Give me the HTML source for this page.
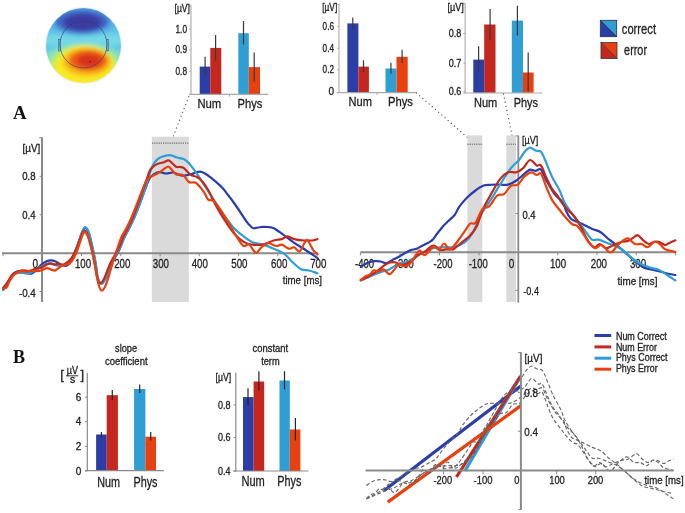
<!DOCTYPE html>
<html lang="en"><head><meta charset="utf-8"><title>Figure</title>
<style>html,body{margin:0;padding:0;background:#fff;}svg{display:block}</style></head><body>
<svg width="685" height="513" viewBox="0 0 685 513">
<defs>
<clipPath id="headclip"><circle cx="83.5" cy="45.5" r="37.5"/></clipPath>
<filter id="blur1" x="-20%" y="-20%" width="140%" height="140%"><feGaussianBlur stdDeviation="2.2"/></filter>
</defs>
<circle cx="83.5" cy="45.5" r="38.7" fill="#edf2f8"/>
<g clip-path="url(#headclip)"><g filter="url(#blur1)">
<rect x="40" y="0" width="90" height="95" fill="#5fc6ea"/>
<ellipse cx="84" cy="40" rx="50" ry="7" fill="#74d8e6"/>
<ellipse cx="84" cy="66" rx="46" ry="22" fill="#86e3b4"/>
<ellipse cx="84" cy="71" rx="35" ry="26.5" fill="#cdec4a"/>
<ellipse cx="85" cy="70.5" rx="30" ry="24.5" fill="#f8ea26"/>
<ellipse cx="87" cy="62" rx="24" ry="14" fill="#f7b418"/>
<ellipse cx="88" cy="60.5" rx="19" ry="10.5" fill="#ee5a12"/>
<ellipse cx="89" cy="60.5" rx="12" ry="6.5" fill="#d6301a"/>
<ellipse cx="82" cy="20" rx="37" ry="16" fill="#58aee6"/>
<ellipse cx="82" cy="21.5" rx="27" ry="12" fill="#4163c4"/>
<ellipse cx="82.5" cy="22.5" rx="19" ry="8.5" fill="#3a3aa2"/>
</g></g>
<ellipse cx="83.5" cy="44.5" rx="23.5" ry="23.5" fill="none" stroke="#353c6e" stroke-width="0.8" opacity="0.8"/>
<rect x="58.4" y="39.5" width="1.6" height="11.5" fill="none" stroke="#353c6e" stroke-width="0.6" opacity="0.8"/>
<rect x="107" y="39.5" width="1.6" height="11.5" fill="none" stroke="#353c6e" stroke-width="0.6" opacity="0.8"/>
<circle cx="90" cy="61.5" r="0.8" fill="#7a1a1a"/>
<rect x="199.7" y="66.6" width="10.6" height="27.6" fill="#2b3da6"/>
<rect x="210.3" y="47.9" width="11.0" height="46.3" fill="#c3271e"/>
<rect x="238.3" y="33.2" width="10.5" height="61.0" fill="#2e9ed4"/>
<rect x="248.8" y="67.1" width="11.2" height="27.1" fill="#e7410f"/>
<line x1="205.1" y1="56.8" x2="205.1" y2="76.0" stroke="#38383f" stroke-width="1.20"/>
<line x1="215.6" y1="35.0" x2="215.6" y2="60.8" stroke="#38383f" stroke-width="1.20"/>
<line x1="243.5" y1="21.0" x2="243.5" y2="44.4" stroke="#38383f" stroke-width="1.20"/>
<line x1="254.2" y1="52.6" x2="254.2" y2="81.4" stroke="#38383f" stroke-width="1.20"/>
<line x1="191.0" y1="5.3" x2="191.0" y2="94.8" stroke="#a9a9a9" stroke-width="1.10"/>
<line x1="189.0" y1="94.4" x2="268.0" y2="94.4" stroke="#a9a9a9" stroke-width="1.10"/>
<line x1="189.2" y1="5.7" x2="191.0" y2="5.7" stroke="#a9a9a9" stroke-width="0.90"/>
<line x1="229.4" y1="94.2" x2="229.4" y2="96.7" stroke="#a9a9a9" stroke-width="1.00"/>
<text x="187.0" y="32.8" font-size="10.0" font-family='"Liberation Sans", sans-serif' text-anchor="end" textLength="11.5" lengthAdjust="spacingAndGlyphs" fill="#222" stroke="#222" stroke-width="0.30">1.0</text>
<line x1="189.2" y1="29.2" x2="191.0" y2="29.2" stroke="#a9a9a9" stroke-width="0.90"/>
<text x="187.0" y="53.4" font-size="10.0" font-family='"Liberation Sans", sans-serif' text-anchor="end" textLength="11.5" lengthAdjust="spacingAndGlyphs" fill="#222" stroke="#222" stroke-width="0.30">0.9</text>
<line x1="189.2" y1="49.8" x2="191.0" y2="49.8" stroke="#a9a9a9" stroke-width="0.90"/>
<text x="187.0" y="75.1" font-size="10.0" font-family='"Liberation Sans", sans-serif' text-anchor="end" textLength="11.5" lengthAdjust="spacingAndGlyphs" fill="#222" stroke="#222" stroke-width="0.30">0.8</text>
<line x1="189.2" y1="71.5" x2="191.0" y2="71.5" stroke="#a9a9a9" stroke-width="0.90"/>
<text x="174.5" y="12.4" font-size="10.0" font-family='"Liberation Sans", sans-serif' textLength="15.5" lengthAdjust="spacingAndGlyphs" fill="#222" stroke="#222" stroke-width="0.30">[µV]</text>
<text x="197.4" y="107.8" font-size="13.5" font-family='"Liberation Sans", sans-serif' textLength="23.9" lengthAdjust="spacingAndGlyphs" fill="#222" stroke="#222" stroke-width="0.30">Num</text>
<text x="237.6" y="107.8" font-size="13.5" font-family='"Liberation Sans", sans-serif' textLength="24.8" lengthAdjust="spacingAndGlyphs" fill="#222" stroke="#222" stroke-width="0.30">Phys</text>
<rect x="347.4" y="23.4" width="11.0" height="69.0" fill="#2b3da6"/>
<rect x="358.4" y="66.6" width="10.5" height="25.8" fill="#c3271e"/>
<rect x="385.5" y="68.5" width="11.0" height="23.9" fill="#2e9ed4"/>
<rect x="396.5" y="56.8" width="11.2" height="35.6" fill="#e7410f"/>
<line x1="352.8" y1="17.5" x2="352.8" y2="29.2" stroke="#38383f" stroke-width="1.20"/>
<line x1="363.5" y1="60.3" x2="363.5" y2="72.0" stroke="#38383f" stroke-width="1.20"/>
<line x1="390.9" y1="62.7" x2="390.9" y2="73.6" stroke="#38383f" stroke-width="1.20"/>
<line x1="402.1" y1="49.8" x2="402.1" y2="62.7" stroke="#38383f" stroke-width="1.20"/>
<line x1="339.0" y1="4.1" x2="339.0" y2="93.0" stroke="#a9a9a9" stroke-width="1.10"/>
<line x1="337.0" y1="92.6" x2="416.4" y2="92.6" stroke="#a9a9a9" stroke-width="1.10"/>
<line x1="337.2" y1="4.5" x2="339.0" y2="4.5" stroke="#a9a9a9" stroke-width="0.90"/>
<line x1="377.0" y1="92.4" x2="377.0" y2="94.9" stroke="#a9a9a9" stroke-width="1.00"/>
<text x="334.0" y="30.0" font-size="10.0" font-family='"Liberation Sans", sans-serif' text-anchor="end" textLength="11.4" lengthAdjust="spacingAndGlyphs" fill="#222" stroke="#222" stroke-width="0.30">0.6</text>
<line x1="337.2" y1="26.4" x2="339.0" y2="26.4" stroke="#a9a9a9" stroke-width="0.90"/>
<text x="334.0" y="51.8" font-size="10.0" font-family='"Liberation Sans", sans-serif' text-anchor="end" textLength="11.4" lengthAdjust="spacingAndGlyphs" fill="#222" stroke="#222" stroke-width="0.30">0.4</text>
<line x1="337.2" y1="48.2" x2="339.0" y2="48.2" stroke="#a9a9a9" stroke-width="0.90"/>
<text x="334.0" y="73.3" font-size="10.0" font-family='"Liberation Sans", sans-serif' text-anchor="end" textLength="11.4" lengthAdjust="spacingAndGlyphs" fill="#222" stroke="#222" stroke-width="0.30">0.2</text>
<line x1="337.2" y1="69.7" x2="339.0" y2="69.7" stroke="#a9a9a9" stroke-width="0.90"/>
<text x="334.0" y="94.8" font-size="10.0" font-family='"Liberation Sans", sans-serif' text-anchor="end" fill="#222" stroke="#222" stroke-width="0.30">0</text>
<text x="322.3" y="11.2" font-size="10.0" font-family='"Liberation Sans", sans-serif' textLength="14.9" lengthAdjust="spacingAndGlyphs" fill="#222" stroke="#222" stroke-width="0.30">[µV]</text>
<text x="348.6" y="106.2" font-size="13.5" font-family='"Liberation Sans", sans-serif' textLength="23.4" lengthAdjust="spacingAndGlyphs" fill="#222" stroke="#222" stroke-width="0.30">Num</text>
<text x="387.9" y="106.2" font-size="13.5" font-family='"Liberation Sans", sans-serif' textLength="25.0" lengthAdjust="spacingAndGlyphs" fill="#222" stroke="#222" stroke-width="0.30">Phys</text>
<rect x="473.3" y="59.6" width="10.9" height="33.2" fill="#2b3da6"/>
<rect x="484.2" y="24.5" width="11.3" height="68.3" fill="#c3271e"/>
<rect x="511.8" y="20.6" width="11.2" height="72.2" fill="#2e9ed4"/>
<rect x="523.0" y="72.5" width="10.6" height="20.3" fill="#e7410f"/>
<line x1="478.6" y1="46.3" x2="478.6" y2="71.3" stroke="#38383f" stroke-width="1.20"/>
<line x1="490.1" y1="8.9" x2="490.1" y2="39.7" stroke="#38383f" stroke-width="1.20"/>
<line x1="517.4" y1="5.8" x2="517.4" y2="35.5" stroke="#38383f" stroke-width="1.20"/>
<line x1="528.2" y1="52.6" x2="528.2" y2="91.2" stroke="#38383f" stroke-width="1.20"/>
<line x1="465.1" y1="3.0" x2="465.1" y2="93.4" stroke="#a9a9a9" stroke-width="1.10"/>
<line x1="463.1" y1="93.0" x2="542.2" y2="93.0" stroke="#a9a9a9" stroke-width="1.10"/>
<line x1="463.3" y1="3.4" x2="465.1" y2="3.4" stroke="#a9a9a9" stroke-width="0.90"/>
<text x="461.4" y="37.1" font-size="10.0" font-family='"Liberation Sans", sans-serif' text-anchor="end" textLength="12.6" lengthAdjust="spacingAndGlyphs" fill="#222" stroke="#222" stroke-width="0.30">0.8</text>
<line x1="463.3" y1="33.5" x2="465.1" y2="33.5" stroke="#a9a9a9" stroke-width="0.90"/>
<text x="461.4" y="66.9" font-size="10.0" font-family='"Liberation Sans", sans-serif' text-anchor="end" textLength="12.6" lengthAdjust="spacingAndGlyphs" fill="#222" stroke="#222" stroke-width="0.30">0.7</text>
<line x1="463.3" y1="63.3" x2="465.1" y2="63.3" stroke="#a9a9a9" stroke-width="0.90"/>
<text x="461.4" y="95.0" font-size="10.0" font-family='"Liberation Sans", sans-serif' text-anchor="end" textLength="12.6" lengthAdjust="spacingAndGlyphs" fill="#222" stroke="#222" stroke-width="0.30">0.6</text>
<line x1="463.3" y1="91.4" x2="465.1" y2="91.4" stroke="#a9a9a9" stroke-width="0.90"/>
<text x="447.5" y="11.0" font-size="10.0" font-family='"Liberation Sans", sans-serif' textLength="16.4" lengthAdjust="spacingAndGlyphs" fill="#222" stroke="#222" stroke-width="0.30">[µV]</text>
<text x="474.0" y="106.8" font-size="13.5" font-family='"Liberation Sans", sans-serif' textLength="23.3" lengthAdjust="spacingAndGlyphs" fill="#222" stroke="#222" stroke-width="0.30">Num</text>
<text x="513.7" y="106.8" font-size="13.5" font-family='"Liberation Sans", sans-serif' textLength="24.3" lengthAdjust="spacingAndGlyphs" fill="#222" stroke="#222" stroke-width="0.30">Phys</text>
<polygon points="600.3,20.3 616.7,36.7 600.3,36.7" fill="#2b3da6"/>
<polygon points="600.3,20.3 616.7,20.3 616.7,36.7" fill="#2e9ed4"/>
<rect x="600.3" y="20.3" width="16.4" height="16.4" fill="none" stroke="#333" stroke-width="0.8"/>
<line x1="600.3" y1="20.3" x2="616.7" y2="36.7" stroke="#222" stroke-width="0.80"/>
<polygon points="601,42.4 617,58.5 601,58.5" fill="#c3271e"/>
<polygon points="601,42.4 617,42.4 617,58.5" fill="#e7410f"/>
<rect x="601" y="42.4" width="16" height="16.1" fill="none" stroke="#333" stroke-width="0.8"/>
<line x1="601.0" y1="42.4" x2="617.0" y2="58.5" stroke="#222" stroke-width="0.80"/>
<text x="621.8" y="33.5" font-size="15.0" font-family='"Liberation Sans", sans-serif' textLength="34.2" lengthAdjust="spacingAndGlyphs" fill="#222" stroke="#222" stroke-width="0.30">correct</text>
<text x="624.1" y="54.9" font-size="15.0" font-family='"Liberation Sans", sans-serif' textLength="22.9" lengthAdjust="spacingAndGlyphs" fill="#222" stroke="#222" stroke-width="0.30">error</text>
<text x="13.0" y="118.5" font-size="18.8" font-family='"Liberation Serif", serif' font-weight="bold" fill="#111" stroke="#111" stroke-width="0.00">A</text>
<text x="13.0" y="363.4" font-size="18.0" font-family='"Liberation Serif", serif' font-weight="bold" fill="#111" stroke="#111" stroke-width="0.00">B</text>
<line x1="188.9" y1="96.2" x2="171.9" y2="139.8" stroke="#454a88" stroke-width="1.10" stroke-dasharray="1.1,3.1"/>
<line x1="416.1" y1="92.6" x2="472.2" y2="141.6" stroke="#444" stroke-width="1.10" stroke-dasharray="1.1,3.1"/>
<line x1="503.4" y1="93.5" x2="513.3" y2="141.5" stroke="#444" stroke-width="1.10" stroke-dasharray="1.1,3.1"/>
<rect x="151.8" y="136.7" width="37.0" height="165.3" fill="#dadada"/>
<line x1="152.0" y1="143.1" x2="188.7" y2="143.1" stroke="#333" stroke-width="0.80" stroke-dasharray="1.2,1"/>
<line x1="42.0" y1="137.2" x2="42.0" y2="302.0" stroke="#8a8a8a" stroke-width="2.00"/>
<line x1="2.0" y1="253.3" x2="318.3" y2="253.3" stroke="#8a8a8a" stroke-width="2.00"/>
<line x1="39.2" y1="137.6" x2="42.0" y2="137.6" stroke="#8a8a8a" stroke-width="1.00"/>
<line x1="39.5" y1="176.3" x2="42.0" y2="176.3" stroke="#8a8a8a" stroke-width="1.00"/>
<line x1="39.5" y1="214.8" x2="42.0" y2="214.8" stroke="#8a8a8a" stroke-width="1.00"/>
<line x1="39.5" y1="291.5" x2="42.0" y2="291.5" stroke="#8a8a8a" stroke-width="1.00"/>
<line x1="3.0" y1="253.3" x2="3.0" y2="256.2" stroke="#8a8a8a" stroke-width="1.00"/>
<line x1="81.5" y1="253.3" x2="81.5" y2="256.2" stroke="#8a8a8a" stroke-width="1.00"/>
<line x1="120.8" y1="253.3" x2="120.8" y2="256.2" stroke="#8a8a8a" stroke-width="1.00"/>
<line x1="160.1" y1="253.3" x2="160.1" y2="256.2" stroke="#8a8a8a" stroke-width="1.00"/>
<line x1="199.3" y1="253.3" x2="199.3" y2="256.2" stroke="#8a8a8a" stroke-width="1.00"/>
<line x1="238.6" y1="253.3" x2="238.6" y2="256.2" stroke="#8a8a8a" stroke-width="1.00"/>
<line x1="277.8" y1="253.3" x2="277.8" y2="256.2" stroke="#8a8a8a" stroke-width="1.00"/>
<line x1="317.1" y1="253.3" x2="317.1" y2="256.2" stroke="#8a8a8a" stroke-width="1.00"/>
<text x="22.5" y="152.3" font-size="10.5" font-family='"Liberation Sans", sans-serif' textLength="17.8" lengthAdjust="spacingAndGlyphs" fill="#222" stroke="#222" stroke-width="0.30">[µV]</text>
<text x="35.6" y="180.2" font-size="10.5" font-family='"Liberation Sans", sans-serif' text-anchor="end" textLength="13.3" lengthAdjust="spacingAndGlyphs" fill="#222" stroke="#222" stroke-width="0.30">0.8</text>
<text x="35.6" y="218.6" font-size="10.5" font-family='"Liberation Sans", sans-serif' text-anchor="end" textLength="13.3" lengthAdjust="spacingAndGlyphs" fill="#222" stroke="#222" stroke-width="0.30">0.4</text>
<text x="35.8" y="296.6" font-size="11.0" font-family='"Liberation Sans", sans-serif' text-anchor="end" textLength="16.9" lengthAdjust="spacingAndGlyphs" fill="#222" stroke="#222" stroke-width="0.30">-0.4</text>
<text x="35.3" y="267.7" font-size="12.0" font-family='"Liberation Sans", sans-serif' text-anchor="middle" textLength="5.6" lengthAdjust="spacingAndGlyphs" fill="#222" stroke="#222" stroke-width="0.30">0</text>
<text x="83.0" y="267.7" font-size="12.0" font-family='"Liberation Sans", sans-serif' text-anchor="middle" textLength="16.2" lengthAdjust="spacingAndGlyphs" fill="#222" stroke="#222" stroke-width="0.30">100</text>
<text x="122.3" y="267.7" font-size="12.0" font-family='"Liberation Sans", sans-serif' text-anchor="middle" textLength="16.2" lengthAdjust="spacingAndGlyphs" fill="#222" stroke="#222" stroke-width="0.30">200</text>
<text x="160.9" y="267.7" font-size="12.0" font-family='"Liberation Sans", sans-serif' text-anchor="middle" textLength="16.2" lengthAdjust="spacingAndGlyphs" fill="#222" stroke="#222" stroke-width="0.30">300</text>
<text x="199.8" y="267.7" font-size="12.0" font-family='"Liberation Sans", sans-serif' text-anchor="middle" textLength="16.2" lengthAdjust="spacingAndGlyphs" fill="#222" stroke="#222" stroke-width="0.30">400</text>
<text x="239.4" y="267.7" font-size="12.0" font-family='"Liberation Sans", sans-serif' text-anchor="middle" textLength="16.2" lengthAdjust="spacingAndGlyphs" fill="#222" stroke="#222" stroke-width="0.30">500</text>
<text x="279.2" y="267.7" font-size="12.0" font-family='"Liberation Sans", sans-serif' text-anchor="middle" textLength="16.2" lengthAdjust="spacingAndGlyphs" fill="#222" stroke="#222" stroke-width="0.30">600</text>
<text x="318.3" y="267.7" font-size="12.0" font-family='"Liberation Sans", sans-serif' text-anchor="middle" textLength="16.2" lengthAdjust="spacingAndGlyphs" fill="#222" stroke="#222" stroke-width="0.30">700</text>
<text x="282.7" y="283.8" font-size="11.2" font-family='"Liberation Sans", sans-serif' textLength="39.3" lengthAdjust="spacingAndGlyphs" fill="#222" stroke="#222" stroke-width="0.30">time [ms]</text>
<path d="M3.2,289.3C4.1,287.9 7.1,283.2 8.8,280.6C10.5,278.1 11.9,275.5 13.2,274.0C14.5,272.5 15.4,271.8 16.8,271.5C18.2,271.2 20.1,271.8 21.9,272.1C23.7,272.4 26.1,273.3 27.8,273.5C29.5,273.7 30.8,273.8 32.2,273.2C33.7,272.6 35.0,271.3 36.5,270.0C38.0,268.7 39.3,266.6 40.9,265.2C42.5,263.8 44.4,262.3 46.1,261.5C47.8,260.7 49.6,260.4 51.2,260.4C52.8,260.4 53.9,260.8 55.6,261.5C57.3,262.2 59.7,264.1 61.4,264.8C63.1,265.5 64.5,266.1 65.8,265.9C67.1,265.7 68.2,265.3 69.4,263.7C70.6,262.1 71.8,259.4 73.1,256.4C74.4,253.4 76.0,249.4 77.5,245.5C79.0,241.6 80.6,235.9 81.9,233.0C83.2,230.1 84.0,228.0 85.1,227.9C86.2,227.8 87.3,229.5 88.5,232.5C89.7,235.5 90.8,240.9 92.0,246.0C93.2,251.1 94.6,257.8 95.5,263.0C96.4,268.2 96.7,273.6 97.5,277.0C98.3,280.4 99.3,282.9 100.6,283.2C101.8,283.5 103.3,282.0 105.0,279.0C106.7,276.0 109.0,269.2 111.0,265.0C113.0,260.8 115.4,257.0 117.0,254.0C118.6,251.0 119.3,249.8 120.5,247.0C121.7,244.2 122.9,240.6 124.3,237.5C125.7,234.4 127.4,231.8 129.0,228.5C130.6,225.2 132.3,221.9 134.0,218.0C135.7,214.1 137.7,209.1 139.3,205.0C140.9,200.9 142.1,197.2 143.5,193.5C144.9,189.8 146.3,185.8 147.5,183.0C148.7,180.2 149.1,178.6 150.7,176.8C152.3,175.1 155.3,173.2 157.0,172.5C158.7,171.8 159.5,172.1 161.0,172.3C162.5,172.5 164.4,173.4 165.9,173.5C167.4,173.6 168.7,173.2 170.0,173.0C171.3,172.8 171.7,172.1 173.5,172.5C175.3,172.9 179.0,175.0 181.1,175.5C183.2,176.0 184.3,175.5 186.0,175.3C187.7,175.1 189.5,174.8 191.2,174.3C192.9,173.8 194.5,172.9 196.0,172.5C197.5,172.1 198.6,171.5 200.1,171.7C201.6,171.9 203.2,172.5 205.0,173.5C206.8,174.5 208.1,175.4 210.9,177.7C213.7,180.0 219.0,184.4 221.8,187.3C224.7,190.2 225.7,192.1 228.0,195.0C230.3,197.9 232.4,200.6 235.5,205.0C238.6,209.4 244.0,218.0 246.4,221.4C248.8,224.8 248.9,224.4 250.0,225.5C251.1,226.6 251.9,227.9 253.2,228.2C254.5,228.5 256.4,227.7 258.0,227.5C259.6,227.3 261.1,227.0 262.8,226.9C264.5,226.8 266.2,226.8 268.0,227.0C269.8,227.2 271.4,227.1 273.7,228.2C276.0,229.3 278.7,231.4 281.9,233.7C285.1,236.0 289.2,239.4 292.8,241.9C296.4,244.4 299.5,246.0 303.7,248.7C307.9,251.4 315.5,256.7 317.9,258.3" fill="none" stroke="#2b3da6" stroke-width="2.2" stroke-linecap="round" stroke-linejoin="round"/>
<path d="M3.2,290.0C4.1,288.7 6.9,284.7 8.8,282.0C10.7,279.3 12.4,275.5 14.6,274.0C16.8,272.5 19.5,273.1 21.9,273.0C24.3,272.9 26.8,273.8 29.2,273.2C31.6,272.6 34.3,270.8 36.5,269.6C38.7,268.4 40.4,266.9 42.4,265.9C44.4,264.8 46.2,263.5 48.2,263.3C50.2,263.1 52.4,264.4 54.1,264.8C55.8,265.2 56.8,265.9 58.5,265.9C60.2,265.8 62.3,265.4 64.3,264.5C66.2,263.6 68.5,262.8 70.2,260.8C71.9,258.9 73.1,256.1 74.6,252.8C76.0,249.5 77.6,244.8 78.9,241.1C80.2,237.4 81.6,233.1 82.6,230.8C83.6,228.5 84.1,227.1 85.1,227.2C86.1,227.3 87.3,228.6 88.5,231.6C89.7,234.6 90.8,239.9 92.0,245.0C93.2,250.1 94.5,256.5 95.5,262.0C96.5,267.5 97.0,274.3 98.0,278.0C99.0,281.7 100.2,283.8 101.5,284.0C102.8,284.2 103.9,282.2 105.5,279.0C107.1,275.8 109.1,269.3 111.0,265.0C112.9,260.7 115.4,256.1 117.0,253.0C118.6,249.9 119.2,249.2 120.5,246.5C121.8,243.8 123.0,240.1 124.5,237.0C126.0,233.9 127.7,231.2 129.3,228.0C130.9,224.8 132.6,221.4 134.3,217.5C136.0,213.6 137.9,208.6 139.5,204.5C141.1,200.4 142.4,196.9 143.8,193.0C145.2,189.1 146.7,184.8 147.8,181.0C149.0,177.2 149.5,173.7 150.7,170.5C151.9,167.3 153.5,164.1 155.0,162.0C156.5,159.9 157.9,158.8 159.6,157.8C161.3,156.8 163.1,156.2 165.0,155.8C166.9,155.4 169.0,155.0 171.0,155.3C173.0,155.6 174.9,156.9 177.0,157.5C179.1,158.1 181.7,158.2 183.6,159.1C185.5,160.0 186.8,160.9 188.7,162.9C190.6,164.9 192.9,168.1 195.0,171.0C197.1,173.9 198.8,176.5 201.4,180.6C204.1,184.7 207.5,190.3 210.9,195.5C214.3,200.7 218.2,206.7 221.8,211.9C225.5,217.1 229.2,222.8 232.8,226.9C236.5,231.0 240.5,233.9 243.7,236.4C246.9,238.9 248.7,240.5 251.9,241.9C255.1,243.3 259.2,243.5 262.8,244.6C266.4,245.7 270.1,247.1 273.7,248.7C277.3,250.3 281.4,251.9 284.6,254.2C287.8,256.5 290.1,259.9 292.8,262.4C295.5,264.9 298.3,267.8 301.0,269.2C303.7,270.6 306.5,269.8 309.2,270.5C311.9,271.2 316.0,272.8 317.4,273.3" fill="none" stroke="#2e9ed4" stroke-width="2.2" stroke-linecap="round" stroke-linejoin="round"/>
<path d="M3.2,288.0C3.9,287.1 5.9,284.8 7.3,282.7C8.7,280.6 10.2,277.1 11.7,275.4C13.2,273.7 14.4,273.4 16.1,272.5C17.8,271.6 19.7,270.5 21.9,270.3C24.1,270.1 27.0,271.3 29.2,271.1C31.4,270.9 33.0,269.5 35.1,268.9C37.2,268.3 39.8,268.1 41.7,267.4C43.7,266.7 45.2,265.2 46.8,264.5C48.4,263.8 49.9,263.3 51.2,263.3C52.5,263.3 53.6,264.4 54.8,264.5C56.0,264.6 57.1,263.6 58.5,263.7C59.9,263.8 61.4,265.0 62.9,264.8C64.4,264.6 65.8,263.5 67.3,262.3C68.8,261.1 70.1,260.0 71.6,257.9C73.0,255.8 74.5,253.2 76.0,249.9C77.5,246.6 79.1,241.4 80.4,238.2C81.8,235.0 82.9,231.3 84.1,230.8C85.3,230.3 86.5,232.1 87.7,235.0C88.9,237.9 90.2,243.0 91.4,248.0C92.6,253.0 94.1,260.2 95.0,265.0C95.9,269.8 96.2,274.0 97.0,277.0C97.8,280.0 98.6,282.9 99.8,283.2C101.0,283.5 102.3,282.2 104.0,279.0C105.7,275.8 108.0,268.3 110.0,264.0C112.0,259.7 114.4,256.0 116.0,253.0C117.6,250.0 118.3,248.6 119.5,246.0C120.7,243.4 121.7,240.4 123.0,237.5C124.3,234.6 125.9,231.8 127.5,228.5C129.1,225.2 130.8,222.0 132.5,218.0C134.2,214.0 136.2,208.7 137.8,204.5C139.4,200.3 140.6,197.1 142.0,193.0C143.4,188.9 145.1,184.0 146.5,180.0C147.9,176.0 148.9,171.8 150.7,169.2C152.4,166.5 154.9,165.2 157.0,164.1C159.1,163.0 161.1,163.1 163.0,162.5C164.9,161.9 166.9,160.2 168.4,160.3C169.9,160.4 170.7,161.9 172.0,163.0C173.3,164.1 174.7,166.0 176.0,166.7C177.3,167.4 178.7,166.8 180.0,167.0C181.3,167.2 182.2,166.9 183.6,167.9C185.0,168.9 187.3,171.7 188.7,173.0C190.1,174.3 190.7,174.9 192.0,175.5C193.3,176.1 194.7,176.0 196.3,176.8C197.9,177.7 199.4,178.4 201.4,180.6C203.4,182.8 205.7,185.7 208.2,190.0C210.7,194.3 213.2,200.7 216.4,206.4C219.6,212.1 224.1,219.3 227.3,224.1C230.5,228.9 232.8,232.1 235.5,235.1C238.2,238.1 241.0,240.3 243.7,241.9C246.4,243.5 248.7,244.2 251.9,244.6C255.1,245.0 259.2,245.3 262.8,244.6C266.4,243.9 270.5,241.4 273.7,240.5C276.9,239.6 279.6,239.8 281.9,239.1C284.2,238.4 285.2,236.4 287.3,236.4C289.4,236.4 291.5,238.4 294.2,239.1C296.9,239.8 300.8,240.3 303.7,240.5C306.6,240.7 309.6,240.7 311.9,240.5C314.2,240.3 316.5,239.3 317.4,239.1" fill="none" stroke="#c3271e" stroke-width="2.2" stroke-linecap="round" stroke-linejoin="round"/>
<path d="M3.2,288.6C3.8,288.4 5.5,288.8 6.6,287.6C7.6,286.4 8.4,283.3 9.5,281.3C10.6,279.3 11.9,276.9 13.2,275.4C14.5,273.9 16.1,273.2 17.5,272.5C18.9,271.8 20.4,271.2 21.9,271.1C23.4,271.0 24.7,271.9 26.3,271.8C27.9,271.7 29.7,270.4 31.4,270.3C33.1,270.2 34.8,271.1 36.5,271.1C38.2,271.1 40.0,270.8 41.7,270.3C43.4,269.8 45.2,268.2 46.8,268.1C48.4,268.0 49.9,269.2 51.2,269.6C52.5,270.0 53.6,270.9 54.8,270.6C56.0,270.4 57.1,269.0 58.5,268.1C59.9,267.2 61.4,265.8 62.9,265.2C64.4,264.6 65.8,265.1 67.3,264.5C68.8,263.9 70.1,263.3 71.6,261.5C73.0,259.7 74.5,256.9 76.0,253.5C77.5,250.1 79.1,244.7 80.4,241.1C81.8,237.5 82.9,233.0 84.1,232.2C85.3,231.3 86.5,233.3 87.7,236.0C88.9,238.7 90.2,243.4 91.4,248.4C92.6,253.4 93.9,260.1 95.0,265.9C96.1,271.7 97.1,279.1 98.2,283.2C99.3,287.3 100.4,290.7 101.8,290.7C103.2,290.7 104.5,288.6 106.5,283.2C108.5,277.8 112.2,264.2 114.0,258.3C115.8,252.4 116.2,251.6 117.5,248.0C118.8,244.4 120.3,239.8 121.5,237.0C122.7,234.2 123.6,233.2 124.5,231.5C125.4,229.8 125.8,229.3 127.0,227.0C128.2,224.7 129.9,221.2 131.5,217.5C133.1,213.8 135.2,208.6 136.8,204.5C138.4,200.4 139.7,196.8 141.2,193.0C142.7,189.2 144.4,184.2 146.0,181.5C147.6,178.8 148.6,178.2 150.7,176.8C152.8,175.4 156.1,174.3 158.3,173.0C160.5,171.7 162.3,170.1 164.0,169.0C165.7,167.9 167.1,166.5 168.4,166.7C169.7,166.9 170.7,168.7 172.0,170.0C173.3,171.3 174.7,173.6 176.0,174.3C177.3,175.1 178.7,174.3 180.0,174.5C181.3,174.7 182.2,174.3 183.6,175.5C185.0,176.7 187.3,180.7 188.7,181.9C190.1,183.1 190.7,182.3 192.0,182.5C193.3,182.7 194.3,181.5 196.3,183.1C198.3,184.7 201.9,189.2 203.9,192.0C205.9,194.8 206.6,198.1 208.2,199.6C209.8,201.1 211.3,198.9 213.6,201.0C215.9,203.1 219.1,207.8 221.8,211.9C224.5,216.0 227.3,221.0 230.0,225.5C232.7,230.0 235.9,235.7 238.2,239.1C240.5,242.5 241.9,245.1 243.7,246.0C245.5,246.9 247.0,243.5 249.1,244.6C251.2,245.7 253.9,252.4 256.0,252.8C258.1,253.2 259.4,248.9 261.4,247.3C263.4,245.7 265.7,243.4 268.2,243.2C270.7,243.0 274.1,245.8 276.4,246.0C278.7,246.2 279.8,244.2 281.9,244.6C283.9,245.0 286.6,248.2 288.7,248.7C290.8,249.1 292.4,246.9 294.2,247.3C296.0,247.8 297.8,252.3 299.6,251.4C301.4,250.5 303.7,243.7 305.1,241.9C306.5,240.1 306.4,239.1 307.8,240.5C309.2,241.9 311.7,247.8 313.3,250.1C314.9,252.4 316.7,253.5 317.4,254.2" fill="none" stroke="#e7410f" stroke-width="2.2" stroke-linecap="round" stroke-linejoin="round"/>
<rect x="467.4" y="135.4" width="14.9" height="166.6" fill="#dadada"/>
<rect x="506.3" y="135.4" width="9.7" height="166.6" fill="#dadada"/>
<line x1="467.4" y1="144.2" x2="482.4" y2="144.2" stroke="#333" stroke-width="0.80" stroke-dasharray="1.2,1"/>
<line x1="506.3" y1="144.2" x2="515.9" y2="144.2" stroke="#333" stroke-width="0.80" stroke-dasharray="1.2,1"/>
<line x1="518.3" y1="135.5" x2="518.3" y2="302.6" stroke="#8a8a8a" stroke-width="1.80"/>
<line x1="515.6" y1="135.9" x2="518.3" y2="135.9" stroke="#8a8a8a" stroke-width="1.00"/>
<line x1="360.4" y1="252.3" x2="675.8" y2="252.3" stroke="#8a8a8a" stroke-width="2.00"/>
<line x1="360.4" y1="252.3" x2="360.4" y2="255.3" stroke="#8a8a8a" stroke-width="1.00"/>
<line x1="400.0" y1="252.3" x2="400.0" y2="255.3" stroke="#8a8a8a" stroke-width="1.00"/>
<line x1="439.5" y1="252.3" x2="439.5" y2="255.3" stroke="#8a8a8a" stroke-width="1.00"/>
<line x1="479.1" y1="252.3" x2="479.1" y2="255.3" stroke="#8a8a8a" stroke-width="1.00"/>
<line x1="557.8" y1="252.3" x2="557.8" y2="255.3" stroke="#8a8a8a" stroke-width="1.00"/>
<line x1="597.0" y1="252.3" x2="597.0" y2="255.3" stroke="#8a8a8a" stroke-width="1.00"/>
<line x1="636.2" y1="252.3" x2="636.2" y2="255.3" stroke="#8a8a8a" stroke-width="1.00"/>
<line x1="675.4" y1="252.3" x2="675.4" y2="255.3" stroke="#8a8a8a" stroke-width="1.00"/>
<line x1="515.4" y1="213.5" x2="518.3" y2="213.5" stroke="#8a8a8a" stroke-width="1.00"/>
<line x1="515.4" y1="290.3" x2="518.3" y2="290.3" stroke="#8a8a8a" stroke-width="1.00"/>
<text x="521.9" y="144.2" font-size="11.2" font-family='"Liberation Sans", sans-serif' textLength="16.3" lengthAdjust="spacingAndGlyphs" fill="#222" stroke="#222" stroke-width="0.30">[µV]</text>
<text x="522.4" y="219.0" font-size="10.5" font-family='"Liberation Sans", sans-serif' textLength="13.1" lengthAdjust="spacingAndGlyphs" fill="#222" stroke="#222" stroke-width="0.30">0.4</text>
<text x="523.2" y="295.3" font-size="10.8" font-family='"Liberation Sans", sans-serif' textLength="15.8" lengthAdjust="spacingAndGlyphs" fill="#222" stroke="#222" stroke-width="0.30">-0.4</text>
<text x="364.5" y="267.5" font-size="12.0" font-family='"Liberation Sans", sans-serif' text-anchor="middle" textLength="19.0" lengthAdjust="spacingAndGlyphs" fill="#222" stroke="#222" stroke-width="0.30">-400</text>
<text x="404.3" y="267.5" font-size="12.0" font-family='"Liberation Sans", sans-serif' text-anchor="middle" textLength="19.0" lengthAdjust="spacingAndGlyphs" fill="#222" stroke="#222" stroke-width="0.30">-300</text>
<text x="443.0" y="267.5" font-size="12.0" font-family='"Liberation Sans", sans-serif' text-anchor="middle" textLength="19.0" lengthAdjust="spacingAndGlyphs" fill="#222" stroke="#222" stroke-width="0.30">-200</text>
<text x="478.2" y="267.5" font-size="12.0" font-family='"Liberation Sans", sans-serif' text-anchor="middle" textLength="19.0" lengthAdjust="spacingAndGlyphs" fill="#222" stroke="#222" stroke-width="0.30">-100</text>
<text x="511.5" y="267.5" font-size="12.0" font-family='"Liberation Sans", sans-serif' text-anchor="middle" textLength="5.6" lengthAdjust="spacingAndGlyphs" fill="#222" stroke="#222" stroke-width="0.30">0</text>
<text x="558.0" y="267.5" font-size="12.0" font-family='"Liberation Sans", sans-serif' text-anchor="middle" textLength="16.2" lengthAdjust="spacingAndGlyphs" fill="#222" stroke="#222" stroke-width="0.30">100</text>
<text x="598.9" y="267.5" font-size="12.0" font-family='"Liberation Sans", sans-serif' text-anchor="middle" textLength="16.2" lengthAdjust="spacingAndGlyphs" fill="#222" stroke="#222" stroke-width="0.30">200</text>
<text x="638.0" y="267.5" font-size="12.0" font-family='"Liberation Sans", sans-serif' text-anchor="middle" textLength="16.2" lengthAdjust="spacingAndGlyphs" fill="#222" stroke="#222" stroke-width="0.30">300</text>
<text x="617.5" y="284.7" font-size="11.2" font-family='"Liberation Sans", sans-serif' textLength="40.0" lengthAdjust="spacingAndGlyphs" fill="#222" stroke="#222" stroke-width="0.30">time [ms]</text>
<path d="M360.8,266.9C362.0,266.2 365.8,263.5 368.2,262.5C370.6,261.5 373.4,261.3 375.5,261.1C377.6,260.9 378.8,261.2 380.6,261.5C382.4,261.8 384.3,263.3 386.4,263.0C388.5,262.7 390.9,260.7 393.0,259.6C395.1,258.6 396.9,257.8 398.9,256.7C400.8,255.6 402.8,254.4 404.7,253.3C406.6,252.2 408.7,250.8 410.6,250.1C412.6,249.4 414.4,249.6 416.4,248.9C418.3,248.2 420.4,246.7 422.3,245.7C424.2,244.7 426.4,243.8 428.1,242.8C429.8,241.8 431.0,241.4 432.5,239.9C434.0,238.4 435.2,236.2 436.9,234.0C438.6,231.8 440.8,228.9 442.7,226.7C444.6,224.5 446.6,222.8 448.6,220.8C450.7,218.8 453.2,216.8 455.0,214.5C456.8,212.2 457.1,209.7 459.2,206.8C461.3,203.9 464.7,200.0 467.4,197.3C470.1,194.6 472.8,192.5 475.5,190.5C478.2,188.5 481.3,186.4 483.7,185.5C486.1,184.6 487.7,185.0 490.0,184.8C492.3,184.7 494.3,184.6 497.3,184.6C500.3,184.6 505.0,185.3 508.2,184.6C511.4,183.9 513.7,182.3 516.4,180.5C519.1,178.7 522.3,175.5 524.6,173.7C526.9,171.9 528.2,170.1 530.0,169.6C531.8,169.1 533.7,170.9 535.5,170.9C537.3,170.9 539.2,168.0 541.0,169.6C542.8,171.2 544.1,176.4 546.4,180.5C548.7,184.6 551.9,190.5 554.6,194.1C557.3,197.7 560.9,199.5 562.8,202.3C564.7,205.1 564.7,208.0 566.0,210.7C567.3,213.4 569.2,216.8 570.7,218.5C572.2,220.2 573.2,220.2 575.0,221.0C576.8,221.8 578.5,222.3 581.4,223.6C584.3,224.9 589.0,227.5 592.2,228.9C595.4,230.3 597.9,230.4 600.7,232.2C603.6,234.0 606.4,237.4 609.3,239.7C612.2,242.0 615.0,243.8 617.9,246.1C620.8,248.4 623.6,251.1 626.5,253.6C629.4,256.1 632.1,258.8 635.0,261.1C637.9,263.4 640.7,266.1 643.6,267.5C646.5,268.9 649.3,269.0 652.2,269.7C655.1,270.4 657.9,271.1 660.8,271.8C663.6,272.5 666.9,273.5 669.3,274.0C671.7,274.5 674.4,274.8 675.4,275.0" fill="none" stroke="#2b3da6" stroke-width="2.2" stroke-linecap="round" stroke-linejoin="round"/>
<path d="M360.8,280.5C362.2,279.9 366.3,278.2 369.0,277.0C371.7,275.8 374.5,274.5 377.0,273.5C379.5,272.5 382.1,271.6 384.0,271.0C385.9,270.4 386.9,270.6 388.6,269.8C390.4,269.0 392.6,267.2 394.5,266.2C396.4,265.1 397.9,264.2 400.0,263.5C402.1,262.8 404.7,262.9 407.0,262.0C409.3,261.1 411.7,259.4 414.0,258.0C416.3,256.6 418.7,254.8 421.0,253.5C423.3,252.2 425.8,251.4 428.0,250.5C430.2,249.6 431.2,248.5 434.0,247.9C436.8,247.3 441.7,247.3 445.0,247.2C448.3,247.0 450.4,247.8 453.7,247.0C457.0,246.2 461.4,244.7 464.6,242.3C467.8,239.9 470.1,237.4 472.8,232.8C475.5,228.2 477.7,220.4 480.9,214.6C484.1,208.8 488.6,203.2 491.8,198.2C495.0,193.2 496.8,189.6 500.0,184.6C503.2,179.6 507.7,172.3 510.9,168.2C514.1,164.1 516.8,162.7 519.1,160.0C521.4,157.3 522.8,153.9 524.6,151.8C526.4,149.8 528.2,147.9 530.0,147.7C531.8,147.5 533.7,149.8 535.5,150.5C537.3,151.2 539.4,150.2 541.0,151.8C542.6,153.4 543.3,155.9 545.1,160.0C546.9,164.1 549.4,171.2 551.9,176.4C554.4,181.6 558.0,187.1 560.1,191.4C562.2,195.7 562.2,198.2 564.3,202.1C566.4,206.0 570.0,211.1 572.9,215.0C575.8,218.9 579.0,222.6 581.4,225.7C583.8,228.8 585.2,231.2 587.0,233.5C588.8,235.8 590.3,238.7 592.2,239.7C594.1,240.7 596.1,239.2 598.6,239.7C601.1,240.2 604.4,241.8 607.2,242.9C610.1,244.0 612.9,244.7 615.7,246.1C618.6,247.5 621.4,249.3 624.3,251.5C627.2,253.7 630.0,256.9 632.9,259.0C635.8,261.1 638.6,262.9 641.5,264.3C644.4,265.7 647.1,266.6 650.0,267.5C652.9,268.4 655.7,268.4 658.6,269.7C661.5,270.9 664.4,273.2 667.2,275.0C670.0,276.8 674.0,279.5 675.4,280.4" fill="none" stroke="#2e9ed4" stroke-width="2.2" stroke-linecap="round" stroke-linejoin="round"/>
<path d="M360.8,280.1C362.3,279.4 366.9,277.2 369.6,275.7C372.3,274.2 374.5,273.0 376.9,271.3C379.3,269.6 382.0,266.9 384.2,265.4C386.4,263.9 388.2,263.0 390.1,262.5C392.1,262.0 393.9,262.1 395.9,262.5C397.8,262.9 399.4,265.1 401.8,265.0C404.2,264.9 407.9,263.4 410.6,261.8C413.3,260.2 415.5,256.9 417.9,255.2C420.3,253.5 423.0,253.0 425.2,251.5C427.4,250.0 429.4,247.4 431.0,246.4C432.6,245.4 433.2,245.1 434.7,245.7C436.2,246.3 438.0,249.5 439.8,250.1C441.6,250.7 443.7,249.5 445.6,249.4C447.6,249.3 450.1,249.5 451.5,249.4C452.9,249.3 452.0,250.3 453.7,249.1C455.4,247.9 459.2,244.6 461.9,242.3C464.6,240.0 467.6,238.2 470.1,235.5C472.6,232.8 474.6,230.5 476.9,225.9C479.1,221.3 481.1,213.3 483.6,207.8C486.1,202.3 489.1,197.6 491.8,192.8C494.5,188.0 497.3,182.5 500.0,179.1C502.7,175.7 505.5,173.4 508.2,172.3C510.9,171.2 513.9,173.0 516.4,172.3C518.9,171.6 520.9,170.2 523.2,168.2C525.5,166.1 527.7,160.4 530.0,160.0C532.3,159.6 535.1,164.6 536.9,165.5C538.7,166.4 539.4,163.4 541.0,165.5C542.6,167.6 544.6,173.9 546.4,177.8C548.2,181.7 550.1,185.8 551.9,188.7C553.7,191.6 555.6,193.1 557.3,195.5C559.0,197.9 560.5,200.8 562.0,203.0C563.5,205.2 564.2,206.2 566.4,208.6C568.6,211.0 572.5,214.0 575.0,217.2C577.5,220.4 579.2,224.0 581.4,227.9C583.5,231.8 585.8,237.5 587.9,240.7C590.0,243.9 592.3,246.6 594.3,247.2C596.3,247.8 597.7,243.8 599.7,244.0C601.7,244.2 603.8,248.0 606.1,248.2C608.4,248.4 610.9,246.1 613.6,245.0C616.3,243.9 619.7,242.5 622.2,241.8C624.7,241.1 626.5,241.6 628.6,240.7C630.7,239.8 633.4,237.3 635.0,236.4C636.6,235.5 636.9,234.7 638.3,235.4C639.7,236.1 641.8,239.3 643.6,240.7C645.4,242.1 647.2,243.8 649.0,244.0C650.8,244.2 652.7,242.2 654.3,241.8C655.9,241.4 656.8,241.3 658.6,241.8C660.4,242.3 663.3,244.8 665.1,245.0C666.9,245.2 667.6,243.7 669.3,242.9C671.0,242.1 674.4,240.7 675.4,240.3" fill="none" stroke="#c3271e" stroke-width="2.2" stroke-linecap="round" stroke-linejoin="round"/>
<path d="M360.8,280.1C361.5,279.5 363.7,277.3 365.2,276.4C366.7,275.5 368.1,275.6 369.6,274.6C371.1,273.6 372.5,270.8 374.0,270.3C375.5,269.8 376.8,271.9 378.4,271.7C380.0,271.5 381.7,269.0 383.5,269.4C385.3,269.8 387.6,274.2 389.4,274.2C391.2,274.2 392.9,271.1 394.5,269.4C396.1,267.7 397.3,264.5 398.9,264.0C400.5,263.5 402.3,266.1 404.0,266.2C405.7,266.3 407.5,265.9 409.1,264.7C410.7,263.5 411.8,261.3 413.5,258.9C415.2,256.5 417.5,251.1 419.3,250.5C421.1,249.9 422.7,255.1 424.4,255.2C426.1,255.2 428.0,252.3 429.6,250.8C431.2,249.3 432.3,246.6 433.9,246.4C435.5,246.2 437.4,249.9 439.1,249.4C440.8,248.9 442.5,243.5 444.2,243.5C445.9,243.5 447.5,249.2 449.3,249.4C451.1,249.6 453.6,245.9 455.0,244.5C456.4,243.1 456.2,243.2 457.8,241.0C459.4,238.8 462.6,234.3 464.6,231.4C466.7,228.5 468.3,225.0 470.1,223.6C471.9,222.2 473.5,225.2 475.5,222.8C477.5,220.4 480.0,211.8 482.3,209.1C484.6,206.4 486.6,208.7 489.1,206.4C491.6,204.1 494.8,197.6 497.3,195.5C499.8,193.4 501.8,195.7 504.1,194.1C506.4,192.5 508.6,187.5 510.9,185.9C513.2,184.3 515.5,186.2 517.8,184.6C520.1,183.0 522.3,178.4 524.6,176.4C526.9,174.4 529.4,172.5 531.4,172.3C533.4,172.1 535.3,174.8 536.9,175.0C538.5,175.2 539.4,171.6 541.0,173.7C542.6,175.8 544.6,183.0 546.4,187.3C548.2,191.6 549.6,195.7 551.9,199.6C554.2,203.5 557.8,207.6 560.1,210.5C562.4,213.4 563.5,215.1 565.5,217.3C567.5,219.6 570.0,222.6 572.0,224.0C574.0,225.4 575.3,224.3 577.2,226.0C579.1,227.7 581.5,231.3 583.6,234.3C585.7,237.3 588.0,241.7 590.0,244.0C592.0,246.3 593.4,248.0 595.4,248.2C597.4,248.4 599.3,244.3 601.8,245.0C604.3,245.7 607.7,252.5 610.4,252.5C613.1,252.5 615.6,247.1 617.9,245.0C620.2,242.9 622.5,240.8 624.3,239.7C626.1,238.6 626.8,237.9 628.6,238.6C630.4,239.3 632.9,243.1 635.0,244.0C637.1,244.9 639.4,243.5 641.5,244.0C643.6,244.5 645.8,247.6 647.9,247.2C650.0,246.8 652.3,242.3 654.3,241.8C656.3,241.3 657.9,242.8 659.7,244.0C661.5,245.2 663.1,248.1 665.1,249.3C667.1,250.5 669.8,250.5 671.5,251.0C673.2,251.5 674.8,251.9 675.4,252.1" fill="none" stroke="#e7410f" stroke-width="2.2" stroke-linecap="round" stroke-linejoin="round"/>
<text x="126.1" y="352.0" font-size="10.4" font-family='"Liberation Sans", sans-serif' text-anchor="middle" textLength="22.0" lengthAdjust="spacingAndGlyphs" fill="#222" stroke="#222" stroke-width="0.30">slope</text>
<text x="126.3" y="365.4" font-size="10.4" font-family='"Liberation Sans", sans-serif' text-anchor="middle" textLength="42.5" lengthAdjust="spacingAndGlyphs" fill="#222" stroke="#222" stroke-width="0.30">coefficient</text>
<text x="60.3" y="379.2" font-size="13.0" font-family='"Liberation Sans", sans-serif' fill="#222" stroke="#222" stroke-width="0.30">[</text>
<text x="80.6" y="379.2" font-size="13.0" font-family='"Liberation Sans", sans-serif' fill="#222" stroke="#222" stroke-width="0.30">]</text>
<text x="72.4" y="374.0" font-size="10.3" font-family='"Liberation Sans", sans-serif' text-anchor="middle" textLength="11.2" lengthAdjust="spacingAndGlyphs" fill="#222" stroke="#222" stroke-width="0.30">µV</text>
<line x1="66.1" y1="375.8" x2="78.4" y2="375.8" stroke="#222" stroke-width="0.90"/>
<text x="72.5" y="382.8" font-size="10.5" font-family='"Liberation Sans", sans-serif' text-anchor="middle" fill="#222" stroke="#222" stroke-width="0.30">s</text>
<rect x="96.1" y="434.5" width="10.6" height="35.9" fill="#2b3da6"/>
<rect x="106.7" y="395.2" width="11.2" height="75.2" fill="#c3271e"/>
<rect x="134.1" y="389.0" width="11.3" height="81.4" fill="#2e9ed4"/>
<rect x="145.4" y="436.7" width="10.6" height="33.7" fill="#e7410f"/>
<line x1="101.4" y1="432.0" x2="101.4" y2="437.3" stroke="#262626" stroke-width="1.20"/>
<line x1="112.3" y1="389.9" x2="112.3" y2="399.9" stroke="#262626" stroke-width="1.20"/>
<line x1="139.7" y1="384.6" x2="139.7" y2="393.0" stroke="#262626" stroke-width="1.20"/>
<line x1="150.7" y1="432.0" x2="150.7" y2="440.4" stroke="#262626" stroke-width="1.20"/>
<line x1="87.3" y1="372.8" x2="87.3" y2="471.0" stroke="#8a8a8a" stroke-width="1.20"/>
<line x1="85.0" y1="470.6" x2="163.8" y2="470.6" stroke="#8a8a8a" stroke-width="1.20"/>
<line x1="85.0" y1="397.1" x2="87.3" y2="397.1" stroke="#8a8a8a" stroke-width="1.00"/>
<text x="81.3" y="400.7" font-size="10.0" font-family='"Liberation Sans", sans-serif' text-anchor="end" fill="#222" stroke="#222" stroke-width="0.30">6</text>
<line x1="85.0" y1="421.7" x2="87.3" y2="421.7" stroke="#8a8a8a" stroke-width="1.00"/>
<text x="81.3" y="425.3" font-size="10.0" font-family='"Liberation Sans", sans-serif' text-anchor="end" fill="#222" stroke="#222" stroke-width="0.30">4</text>
<line x1="85.0" y1="446.4" x2="87.3" y2="446.4" stroke="#8a8a8a" stroke-width="1.00"/>
<text x="81.3" y="450.0" font-size="10.0" font-family='"Liberation Sans", sans-serif' text-anchor="end" fill="#222" stroke="#222" stroke-width="0.30">2</text>
<line x1="85.0" y1="471.0" x2="87.3" y2="471.0" stroke="#8a8a8a" stroke-width="1.00"/>
<text x="81.3" y="474.6" font-size="10.0" font-family='"Liberation Sans", sans-serif' text-anchor="end" fill="#222" stroke="#222" stroke-width="0.30">0</text>
<text x="97.3" y="486.6" font-size="14.0" font-family='"Liberation Sans", sans-serif' textLength="22.8" lengthAdjust="spacingAndGlyphs" fill="#222" stroke="#222" stroke-width="0.30">Num</text>
<text x="133.5" y="486.6" font-size="14.0" font-family='"Liberation Sans", sans-serif' textLength="24.0" lengthAdjust="spacingAndGlyphs" fill="#222" stroke="#222" stroke-width="0.30">Phys</text>
<text x="270.3" y="352.0" font-size="10.4" font-family='"Liberation Sans", sans-serif' text-anchor="middle" textLength="35.6" lengthAdjust="spacingAndGlyphs" fill="#222" stroke="#222" stroke-width="0.30">constant</text>
<text x="270.4" y="365.4" font-size="10.4" font-family='"Liberation Sans", sans-serif' text-anchor="middle" textLength="18.5" lengthAdjust="spacingAndGlyphs" fill="#222" stroke="#222" stroke-width="0.30">term</text>
<rect x="243.0" y="397.1" width="10.6" height="73.9" fill="#2b3da6"/>
<rect x="253.6" y="381.5" width="10.6" height="89.5" fill="#c3271e"/>
<rect x="279.5" y="380.5" width="10.3" height="90.5" fill="#2e9ed4"/>
<rect x="289.8" y="429.5" width="10.6" height="41.5" fill="#e7410f"/>
<line x1="248.0" y1="388.3" x2="248.0" y2="405.5" stroke="#262626" stroke-width="1.20"/>
<line x1="258.9" y1="371.2" x2="258.9" y2="390.5" stroke="#262626" stroke-width="1.20"/>
<line x1="284.5" y1="371.2" x2="284.5" y2="389.3" stroke="#262626" stroke-width="1.20"/>
<line x1="295.4" y1="418.0" x2="295.4" y2="440.4" stroke="#262626" stroke-width="1.20"/>
<line x1="235.8" y1="372.7" x2="235.8" y2="471.6" stroke="#8a8a8a" stroke-width="1.20"/>
<line x1="233.5" y1="471.0" x2="308.5" y2="471.0" stroke="#8a8a8a" stroke-width="1.20"/>
<text x="215.6" y="381.4" font-size="10.0" font-family='"Liberation Sans", sans-serif' textLength="15.6" lengthAdjust="spacingAndGlyphs" fill="#222" stroke="#222" stroke-width="0.30">[µV]</text>
<line x1="233.5" y1="404.9" x2="235.8" y2="404.9" stroke="#8a8a8a" stroke-width="1.00"/>
<text x="230.6" y="408.5" font-size="10.0" font-family='"Liberation Sans", sans-serif' text-anchor="end" textLength="12.5" lengthAdjust="spacingAndGlyphs" fill="#222" stroke="#222" stroke-width="0.30">0.8</text>
<line x1="233.5" y1="437.6" x2="235.8" y2="437.6" stroke="#8a8a8a" stroke-width="1.00"/>
<text x="230.6" y="441.2" font-size="10.0" font-family='"Liberation Sans", sans-serif' text-anchor="end" textLength="12.5" lengthAdjust="spacingAndGlyphs" fill="#222" stroke="#222" stroke-width="0.30">0.6</text>
<line x1="233.5" y1="471.0" x2="235.8" y2="471.0" stroke="#8a8a8a" stroke-width="1.00"/>
<text x="230.6" y="474.6" font-size="10.0" font-family='"Liberation Sans", sans-serif' text-anchor="end" textLength="12.5" lengthAdjust="spacingAndGlyphs" fill="#222" stroke="#222" stroke-width="0.30">0.4</text>
<text x="241.4" y="485.9" font-size="14.0" font-family='"Liberation Sans", sans-serif' textLength="23.4" lengthAdjust="spacingAndGlyphs" fill="#222" stroke="#222" stroke-width="0.30">Num</text>
<text x="277.3" y="485.9" font-size="14.0" font-family='"Liberation Sans", sans-serif' textLength="24.0" lengthAdjust="spacingAndGlyphs" fill="#222" stroke="#222" stroke-width="0.30">Phys</text>
<line x1="384.2" y1="490.4" x2="520.9" y2="386.0" stroke="#2b3da6" stroke-width="3.20"/>
<line x1="464.9" y1="470.9" x2="520.5" y2="376.5" stroke="#2e9ed4" stroke-width="3.20"/>
<line x1="456.5" y1="477.0" x2="520.6" y2="376.0" stroke="#c3271e" stroke-width="3.20"/>
<line x1="387.8" y1="502.1" x2="520.9" y2="405.6" stroke="#e7410f" stroke-width="3.20"/>
<path d="M360.8,266.9C362.0,266.2 365.8,263.5 368.2,262.5C370.6,261.5 373.4,261.3 375.5,261.1C377.6,260.9 378.8,261.2 380.6,261.5C382.4,261.8 384.3,263.3 386.4,263.0C388.5,262.7 390.9,260.7 393.0,259.6C395.1,258.6 396.9,257.8 398.9,256.7C400.8,255.6 402.8,254.4 404.7,253.3C406.6,252.2 408.7,250.8 410.6,250.1C412.6,249.4 414.4,249.6 416.4,248.9C418.3,248.2 420.4,246.7 422.3,245.7C424.2,244.7 426.4,243.8 428.1,242.8C429.8,241.8 431.0,241.4 432.5,239.9C434.0,238.4 435.2,236.2 436.9,234.0C438.6,231.8 440.8,228.9 442.7,226.7C444.6,224.5 446.6,222.8 448.6,220.8C450.7,218.8 453.2,216.8 455.0,214.5C456.8,212.2 457.1,209.7 459.2,206.8C461.3,203.9 464.7,200.0 467.4,197.3C470.1,194.6 472.8,192.5 475.5,190.5C478.2,188.5 481.3,186.4 483.7,185.5C486.1,184.6 487.7,185.0 490.0,184.8C492.3,184.7 494.3,184.6 497.3,184.6C500.3,184.6 505.0,185.3 508.2,184.6C511.4,183.9 513.7,182.3 516.4,180.5C519.1,178.7 522.3,175.5 524.6,173.7C526.9,171.9 528.2,170.1 530.0,169.6C531.8,169.1 533.7,170.9 535.5,170.9C537.3,170.9 539.2,168.0 541.0,169.6C542.8,171.2 544.1,176.4 546.4,180.5C548.7,184.6 551.9,190.5 554.6,194.1C557.3,197.7 560.9,199.5 562.8,202.3C564.7,205.1 564.7,208.0 566.0,210.7C567.3,213.4 569.2,216.8 570.7,218.5C572.2,220.2 573.2,220.2 575.0,221.0C576.8,221.8 578.5,222.3 581.4,223.6C584.3,224.9 589.0,227.5 592.2,228.9C595.4,230.3 597.9,230.4 600.7,232.2C603.6,234.0 606.4,237.4 609.3,239.7C612.2,242.0 615.0,243.8 617.9,246.1C620.8,248.4 623.6,251.1 626.5,253.6C629.4,256.1 632.1,258.8 635.0,261.1C637.9,263.4 640.7,266.1 643.6,267.5C646.5,268.9 649.3,269.0 652.2,269.7C655.1,270.4 657.9,271.1 660.8,271.8C663.6,272.5 666.9,273.5 669.3,274.0C671.7,274.5 674.4,274.8 675.4,275.0" transform="translate(14.25,218.5) scale(0.976,1)" fill="none" stroke="#666" stroke-width="1.15" stroke-dasharray="3.8,2.3"/>
<path d="M360.8,280.5C362.2,279.9 366.3,278.2 369.0,277.0C371.7,275.8 374.5,274.5 377.0,273.5C379.5,272.5 382.1,271.6 384.0,271.0C385.9,270.4 386.9,270.6 388.6,269.8C390.4,269.0 392.6,267.2 394.5,266.2C396.4,265.1 397.9,264.2 400.0,263.5C402.1,262.8 404.7,262.9 407.0,262.0C409.3,261.1 411.7,259.4 414.0,258.0C416.3,256.6 418.7,254.8 421.0,253.5C423.3,252.2 425.8,251.4 428.0,250.5C430.2,249.6 431.2,248.5 434.0,247.9C436.8,247.3 441.7,247.3 445.0,247.2C448.3,247.0 450.4,247.8 453.7,247.0C457.0,246.2 461.4,244.7 464.6,242.3C467.8,239.9 470.1,237.4 472.8,232.8C475.5,228.2 477.7,220.4 480.9,214.6C484.1,208.8 488.6,203.2 491.8,198.2C495.0,193.2 496.8,189.6 500.0,184.6C503.2,179.6 507.7,172.3 510.9,168.2C514.1,164.1 516.8,162.7 519.1,160.0C521.4,157.3 522.8,153.9 524.6,151.8C526.4,149.8 528.2,147.9 530.0,147.7C531.8,147.5 533.7,149.8 535.5,150.5C537.3,151.2 539.4,150.2 541.0,151.8C542.6,153.4 543.3,155.9 545.1,160.0C546.9,164.1 549.4,171.2 551.9,176.4C554.4,181.6 558.0,187.1 560.1,191.4C562.2,195.7 562.2,198.2 564.3,202.1C566.4,206.0 570.0,211.1 572.9,215.0C575.8,218.9 579.0,222.6 581.4,225.7C583.8,228.8 585.2,231.2 587.0,233.5C588.8,235.8 590.3,238.7 592.2,239.7C594.1,240.7 596.1,239.2 598.6,239.7C601.1,240.2 604.4,241.8 607.2,242.9C610.1,244.0 612.9,244.7 615.7,246.1C618.6,247.5 621.4,249.3 624.3,251.5C627.2,253.7 630.0,256.9 632.9,259.0C635.8,261.1 638.6,262.9 641.5,264.3C644.4,265.7 647.1,266.6 650.0,267.5C652.9,268.4 655.7,268.4 658.6,269.7C661.5,270.9 664.4,273.2 667.2,275.0C670.0,276.8 674.0,279.5 675.4,280.4" transform="translate(14.25,218.5) scale(0.976,1)" fill="none" stroke="#666" stroke-width="1.15" stroke-dasharray="3.8,2.3"/>
<path d="M360.8,280.1C362.3,279.4 366.9,277.2 369.6,275.7C372.3,274.2 374.5,273.0 376.9,271.3C379.3,269.6 382.0,266.9 384.2,265.4C386.4,263.9 388.2,263.0 390.1,262.5C392.1,262.0 393.9,262.1 395.9,262.5C397.8,262.9 399.4,265.1 401.8,265.0C404.2,264.9 407.9,263.4 410.6,261.8C413.3,260.2 415.5,256.9 417.9,255.2C420.3,253.5 423.0,253.0 425.2,251.5C427.4,250.0 429.4,247.4 431.0,246.4C432.6,245.4 433.2,245.1 434.7,245.7C436.2,246.3 438.0,249.5 439.8,250.1C441.6,250.7 443.7,249.5 445.6,249.4C447.6,249.3 450.1,249.5 451.5,249.4C452.9,249.3 452.0,250.3 453.7,249.1C455.4,247.9 459.2,244.6 461.9,242.3C464.6,240.0 467.6,238.2 470.1,235.5C472.6,232.8 474.6,230.5 476.9,225.9C479.1,221.3 481.1,213.3 483.6,207.8C486.1,202.3 489.1,197.6 491.8,192.8C494.5,188.0 497.3,182.5 500.0,179.1C502.7,175.7 505.5,173.4 508.2,172.3C510.9,171.2 513.9,173.0 516.4,172.3C518.9,171.6 520.9,170.2 523.2,168.2C525.5,166.1 527.7,160.4 530.0,160.0C532.3,159.6 535.1,164.6 536.9,165.5C538.7,166.4 539.4,163.4 541.0,165.5C542.6,167.6 544.6,173.9 546.4,177.8C548.2,181.7 550.1,185.8 551.9,188.7C553.7,191.6 555.6,193.1 557.3,195.5C559.0,197.9 560.5,200.8 562.0,203.0C563.5,205.2 564.2,206.2 566.4,208.6C568.6,211.0 572.5,214.0 575.0,217.2C577.5,220.4 579.2,224.0 581.4,227.9C583.5,231.8 585.8,237.5 587.9,240.7C590.0,243.9 592.3,246.6 594.3,247.2C596.3,247.8 597.7,243.8 599.7,244.0C601.7,244.2 603.8,248.0 606.1,248.2C608.4,248.4 610.9,246.1 613.6,245.0C616.3,243.9 619.7,242.5 622.2,241.8C624.7,241.1 626.5,241.6 628.6,240.7C630.7,239.8 633.4,237.3 635.0,236.4C636.6,235.5 636.9,234.7 638.3,235.4C639.7,236.1 641.8,239.3 643.6,240.7C645.4,242.1 647.2,243.8 649.0,244.0C650.8,244.2 652.7,242.2 654.3,241.8C655.9,241.4 656.8,241.3 658.6,241.8C660.4,242.3 663.3,244.8 665.1,245.0C666.9,245.2 667.6,243.7 669.3,242.9C671.0,242.1 674.4,240.7 675.4,240.3" transform="translate(14.25,218.5) scale(0.976,1)" fill="none" stroke="#666" stroke-width="1.15" stroke-dasharray="3.8,2.3"/>
<path d="M360.8,280.1C361.5,279.5 363.7,277.3 365.2,276.4C366.7,275.5 368.1,275.6 369.6,274.6C371.1,273.6 372.5,270.8 374.0,270.3C375.5,269.8 376.8,271.9 378.4,271.7C380.0,271.5 381.7,269.0 383.5,269.4C385.3,269.8 387.6,274.2 389.4,274.2C391.2,274.2 392.9,271.1 394.5,269.4C396.1,267.7 397.3,264.5 398.9,264.0C400.5,263.5 402.3,266.1 404.0,266.2C405.7,266.3 407.5,265.9 409.1,264.7C410.7,263.5 411.8,261.3 413.5,258.9C415.2,256.5 417.5,251.1 419.3,250.5C421.1,249.9 422.7,255.1 424.4,255.2C426.1,255.2 428.0,252.3 429.6,250.8C431.2,249.3 432.3,246.6 433.9,246.4C435.5,246.2 437.4,249.9 439.1,249.4C440.8,248.9 442.5,243.5 444.2,243.5C445.9,243.5 447.5,249.2 449.3,249.4C451.1,249.6 453.6,245.9 455.0,244.5C456.4,243.1 456.2,243.2 457.8,241.0C459.4,238.8 462.6,234.3 464.6,231.4C466.7,228.5 468.3,225.0 470.1,223.6C471.9,222.2 473.5,225.2 475.5,222.8C477.5,220.4 480.0,211.8 482.3,209.1C484.6,206.4 486.6,208.7 489.1,206.4C491.6,204.1 494.8,197.6 497.3,195.5C499.8,193.4 501.8,195.7 504.1,194.1C506.4,192.5 508.6,187.5 510.9,185.9C513.2,184.3 515.5,186.2 517.8,184.6C520.1,183.0 522.3,178.4 524.6,176.4C526.9,174.4 529.4,172.5 531.4,172.3C533.4,172.1 535.3,174.8 536.9,175.0C538.5,175.2 539.4,171.6 541.0,173.7C542.6,175.8 544.6,183.0 546.4,187.3C548.2,191.6 549.6,195.7 551.9,199.6C554.2,203.5 557.8,207.6 560.1,210.5C562.4,213.4 563.5,215.1 565.5,217.3C567.5,219.6 570.0,222.6 572.0,224.0C574.0,225.4 575.3,224.3 577.2,226.0C579.1,227.7 581.5,231.3 583.6,234.3C585.7,237.3 588.0,241.7 590.0,244.0C592.0,246.3 593.4,248.0 595.4,248.2C597.4,248.4 599.3,244.3 601.8,245.0C604.3,245.7 607.7,252.5 610.4,252.5C613.1,252.5 615.6,247.1 617.9,245.0C620.2,242.9 622.5,240.8 624.3,239.7C626.1,238.6 626.8,237.9 628.6,238.6C630.4,239.3 632.9,243.1 635.0,244.0C637.1,244.9 639.4,243.5 641.5,244.0C643.6,244.5 645.8,247.6 647.9,247.2C650.0,246.8 652.3,242.3 654.3,241.8C656.3,241.3 657.9,242.8 659.7,244.0C661.5,245.2 663.1,248.1 665.1,249.3C667.1,250.5 669.8,250.5 671.5,251.0C673.2,251.5 674.8,251.9 675.4,252.1" transform="translate(14.25,218.5) scale(0.976,1)" fill="none" stroke="#666" stroke-width="1.15" stroke-dasharray="3.8,2.3"/>
<line x1="520.9" y1="352.1" x2="520.9" y2="510.0" stroke="#8a8a8a" stroke-width="2.00"/>
<line x1="365.5" y1="470.6" x2="673.6" y2="470.6" stroke="#8a8a8a" stroke-width="2.00"/>
<line x1="518.0" y1="352.6" x2="520.9" y2="352.6" stroke="#8a8a8a" stroke-width="1.00"/>
<line x1="518.2" y1="509.6" x2="520.9" y2="509.6" stroke="#8a8a8a" stroke-width="1.00"/>
<line x1="517.8" y1="392.4" x2="520.9" y2="392.4" stroke="#8a8a8a" stroke-width="1.00"/>
<line x1="517.8" y1="431.2" x2="520.9" y2="431.2" stroke="#8a8a8a" stroke-width="1.00"/>
<line x1="443.5" y1="470.6" x2="443.5" y2="474.2" stroke="#8a8a8a" stroke-width="1.00"/>
<line x1="483.0" y1="470.6" x2="483.0" y2="474.2" stroke="#8a8a8a" stroke-width="1.00"/>
<line x1="556.7" y1="470.6" x2="556.7" y2="474.2" stroke="#8a8a8a" stroke-width="1.00"/>
<line x1="595.7" y1="470.6" x2="595.7" y2="474.2" stroke="#8a8a8a" stroke-width="1.00"/>
<text x="524.6" y="362.0" font-size="11.2" font-family='"Liberation Sans", sans-serif' textLength="17.8" lengthAdjust="spacingAndGlyphs" fill="#222" stroke="#222" stroke-width="0.30">[µV]</text>
<text x="524.2" y="396.8" font-size="11.3" font-family='"Liberation Sans", sans-serif' textLength="13.8" lengthAdjust="spacingAndGlyphs" fill="#222" stroke="#222" stroke-width="0.30">0.8</text>
<text x="524.2" y="435.8" font-size="11.3" font-family='"Liberation Sans", sans-serif' textLength="13.8" lengthAdjust="spacingAndGlyphs" fill="#222" stroke="#222" stroke-width="0.30">0.4</text>
<text x="442.8" y="484.4" font-size="11.3" font-family='"Liberation Sans", sans-serif' text-anchor="middle" textLength="18.6" lengthAdjust="spacingAndGlyphs" fill="#222" stroke="#222" stroke-width="0.30">-200</text>
<text x="483.0" y="484.4" font-size="11.3" font-family='"Liberation Sans", sans-serif' text-anchor="middle" textLength="19.0" lengthAdjust="spacingAndGlyphs" fill="#222" stroke="#222" stroke-width="0.30">-100</text>
<text x="516.8" y="484.4" font-size="11.3" font-family='"Liberation Sans", sans-serif' text-anchor="middle" textLength="5.2" lengthAdjust="spacingAndGlyphs" fill="#222" stroke="#222" stroke-width="0.30">0</text>
<text x="557.0" y="484.4" font-size="11.3" font-family='"Liberation Sans", sans-serif' text-anchor="middle" textLength="15.6" lengthAdjust="spacingAndGlyphs" fill="#222" stroke="#222" stroke-width="0.30">100</text>
<text x="595.5" y="484.4" font-size="11.3" font-family='"Liberation Sans", sans-serif' text-anchor="middle" textLength="15.6" lengthAdjust="spacingAndGlyphs" fill="#222" stroke="#222" stroke-width="0.30">200</text>
<text x="644.4" y="483.6" font-size="11.2" font-family='"Liberation Sans", sans-serif' textLength="39.2" lengthAdjust="spacingAndGlyphs" fill="#222" stroke="#222" stroke-width="0.30">time [ms]</text>
<line x1="594.5" y1="335.5" x2="611.2" y2="335.5" stroke="#2b3da6" stroke-width="3.00"/>
<text x="615.9" y="339.5" font-size="10.2" font-family='"Liberation Sans", sans-serif' textLength="50.9" lengthAdjust="spacingAndGlyphs" fill="#222" stroke="#222" stroke-width="0.30">Num Correct</text>
<line x1="594.5" y1="346.9" x2="611.2" y2="346.9" stroke="#c3271e" stroke-width="3.00"/>
<text x="615.9" y="350.5" font-size="10.2" font-family='"Liberation Sans", sans-serif' textLength="41.0" lengthAdjust="spacingAndGlyphs" fill="#222" stroke="#222" stroke-width="0.30">Num Error</text>
<line x1="594.5" y1="358.2" x2="611.2" y2="358.2" stroke="#2e9ed4" stroke-width="3.00"/>
<text x="615.9" y="361.4" font-size="10.2" font-family='"Liberation Sans", sans-serif' textLength="51.7" lengthAdjust="spacingAndGlyphs" fill="#222" stroke="#222" stroke-width="0.30">Phys Correct</text>
<line x1="594.5" y1="369.2" x2="611.2" y2="369.2" stroke="#e7410f" stroke-width="3.00"/>
<text x="615.9" y="372.0" font-size="10.2" font-family='"Liberation Sans", sans-serif' textLength="41.7" lengthAdjust="spacingAndGlyphs" fill="#222" stroke="#222" stroke-width="0.30">Phys Error</text>
</svg></body></html>
